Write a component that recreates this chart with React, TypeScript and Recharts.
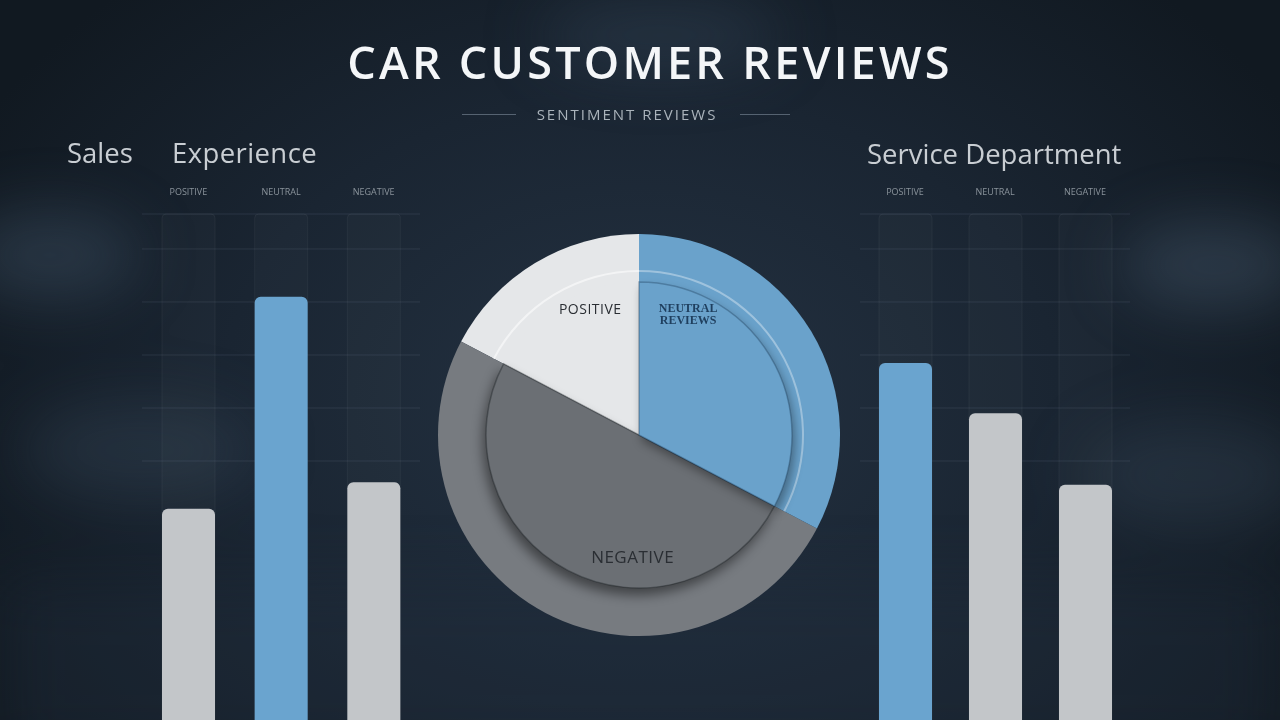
import { BarChart, Bar, XAxis, YAxis, CartesianGrid, Cell, PieChart, Pie } from 'recharts';

// bar categories (same three for both panels)
const reviewTypes = ['POSITIVE', 'NEUTRAL', 'NEGATIVE'];

const salesValues = [41, 81, 46];
const serviceValues = [68.5, 59, 45.5];

const salesColors = ['#c3c6c9', '#6aa4cf', '#c3c6c9'];
const serviceColors = ['#6aa4cf', '#c3c6c9', '#c3c6c9'];

const gridTicks = [50, 60, 70, 80, 90];

// pie, counter-clockwise from 12 o'clock
const sentimentNames = ['POSITIVE', 'NEGATIVE', 'NEUTRAL'];
const sentimentValues = [17.3, 50, 32.7];

const salesData = reviewTypes.map((name, i) => ({ name, value: salesValues[i] }));
const serviceData = reviewTypes.map((name, i) => ({ name, value: serviceValues[i] }));
const pieData = sentimentNames.map((name, i) => ({ name, value: sentimentValues[i] }));

const outerFills = ['#e5e7e9', '#777b80', '#6aa2cb'];
const innerFills = ['#e5e7e9', '#6b6f74', '#6aa2cb'];
const innerStrokes = ['none', 'rgba(20,25,30,0.35)', 'rgba(30,60,90,0.35)'];
const innerShadows = [
  undefined,
  'drop-shadow(-3px 7px 6px rgba(0,0,0,0.45))',
  'drop-shadow(3px 6px 5px rgba(0,0,0,0.35))',
];
const ringFills = ['rgba(255,255,255,0.55)', 'transparent', 'rgba(255,255,255,0.35)'];

// where each pie label sits (angle in degrees, radius in px)
const labelPlacement = [
  { angle: 111, r: 136 },
  { angle: -93, r: 121 },
  { angle: 68, r: 131 },
];
const pieLabelLines = [['POSITIVE'], ['NEGATIVE'], ['NEUTRAL', 'REVIEWS']];
const pieLabelColors = ['#2a2e33', '#2a2e33', '#1f3f5e'];
const pieLabelSizes = [14, 17, 12];

const FONT = '"Open Sans", "Noto Sans", sans-serif';

function PieLabel(props: any) {
  const { cx, cy, index } = props;
  const p = labelPlacement[index];
  const rad = (p.angle * Math.PI) / 180;
  const x = cx + p.r * Math.cos(rad);
  const y = cy - p.r * Math.sin(rad);
  const lines = pieLabelLines[index];
  const serif = index === 2;
  return (
    <text
      key={`lbl-${index}`}
      x={x}
      y={y - ((lines.length - 1) * pieLabelSizes[index]) / 2}
      textAnchor="middle"
      dominantBaseline="central"
      fill={pieLabelColors[index]}
      fontSize={pieLabelSizes[index]}
      fontFamily={serif ? '"Liberation Serif", serif' : FONT}
      fontWeight={serif ? 700 : 500}
      letterSpacing={serif ? 0 : 0.5}
    >
      {lines.map((l, k) => (
        <tspan key={k} x={x} dy={k === 0 ? 0 : pieLabelSizes[index]}>
          {l}
        </tspan>
      ))}
    </text>
  );
}

function ReviewBars({ data, colors, left, width }: { data: any[]; colors: string[]; left: number; width: number }) {
  return (
    <div style={{ position: 'absolute', left, top: 164 }}>
      <BarChart width={width} height={562} data={data} margin={{ top: 20, right: 0, bottom: 0, left: 0 }} barSize={53}>
        <CartesianGrid vertical={false} stroke="rgba(170,190,210,0.12)" />
        <XAxis
          dataKey="name"
          orientation="top"
          height={30}
          axisLine={false}
          tickLine={false}
          tickSize={0}
          tickMargin={19}
          tick={{ fill: '#8a939b', fontSize: 9, fontFamily: FONT }}
          interval={0}
        />
        <YAxis hide domain={[0, 96.6]} ticks={gridTicks} />
        <Bar
          dataKey="value"
          radius={[6, 6, 0, 0]}
          isAnimationActive={false}
          background={{ fill: 'rgba(255,255,255,0.02)', stroke: 'rgba(255,255,255,0.05)', radius: 4 } as any}
        >
          {data.map((d, i) => (
            <Cell key={d.name} fill={colors[i]} />
          ))}
        </Bar>
      </BarChart>
    </div>
  );
}

export default function App() {
  return (
    <div
      style={{
        position: 'fixed',
        inset: 0,
        width: 1280,
        height: 720,
        overflow: 'hidden',
        background: 'radial-gradient(ellipse 760px 560px at 640px 400px, #243242 0%, #1a2532 55%, #111921 100%)',
        fontFamily: FONT,
      }}
    >
      {/* blurred backdrop blobs */}
      <div style={{ position: 'absolute', inset: 0, filter: 'blur(30px)' }}>
        <div style={{ position: 'absolute', left: -40, top: 210, width: 180, height: 90, borderRadius: '50%', background: 'rgba(90,115,140,0.28)' }} />
        <div style={{ position: 'absolute', left: 1120, top: 220, width: 190, height: 90, borderRadius: '50%', background: 'rgba(100,125,150,0.28)' }} />
        <div style={{ position: 'absolute', left: 20, top: 400, width: 240, height: 100, borderRadius: '50%', background: 'rgba(70,90,110,0.25)' }} />
        <div style={{ position: 'absolute', left: 1080, top: 420, width: 230, height: 110, borderRadius: '50%', background: 'rgba(70,90,110,0.25)' }} />
        <div style={{ position: 'absolute', left: 540, top: 0, width: 240, height: 70, borderRadius: '50%', background: 'rgba(60,80,100,0.35)' }} />
        <div style={{ position: 'absolute', left: 0, top: 580, width: 1280, height: 180, background: 'rgba(35,50,65,0.3)' }} />
      </div>

      <div
        style={{
          position: 'absolute',
          left: 0,
          width: 1300,
          top: 31,
          textAlign: 'center',
          color: '#f4f6f8',
          fontSize: 45,
          fontWeight: 600,
          letterSpacing: 3.2,
        }}
      >
        CAR CUSTOMER REVIEWS
      </div>

      <div style={{ position: 'absolute', left: 462, top: 114, width: 54, height: 1, background: 'rgba(160,175,190,0.45)' }} />
      <div style={{ position: 'absolute', left: 740, top: 114, width: 50, height: 1, background: 'rgba(160,175,190,0.45)' }} />
      <div
        style={{
          position: 'absolute',
          left: 520,
          width: 214,
          top: 104,
          textAlign: 'center',
          color: '#aab3bb',
          fontSize: 15,
          letterSpacing: 2,
        }}
      >
        SENTIMENT REVIEWS
      </div>

      <div style={{ position: 'absolute', left: 67, top: 134, color: '#c9ced3', fontSize: 27.5 }}>Sales</div>
      <div style={{ position: 'absolute', left: 172, top: 134, color: '#c9ced3', fontSize: 27.5, letterSpacing: 0.4 }}>Experience</div>
      <div style={{ position: 'absolute', left: 867, top: 135, color: '#c9ced3', fontSize: 27.5 }}>Service Department</div>

      <ReviewBars data={salesData} colors={salesColors} left={142} width={278} />
      <ReviewBars data={serviceData} colors={serviceColors} left={860} width={270} />

      <div style={{ position: 'absolute', left: 430, top: 226 }}>
        <PieChart width={420} height={420} margin={{ top: 0, right: 0, bottom: 0, left: 0 }}>
          <Pie
            data={pieData}
            dataKey="value"
            cx={209}
            cy={209}
            outerRadius={201}
            startAngle={90}
            endAngle={450}
            stroke="none"
            isAnimationActive={false}
          >
            {pieData.map((d, i) => (
              <Cell key={d.name} fill={outerFills[i]} />
            ))}
          </Pie>
          <Pie
            data={pieData}
            dataKey="value"
            cx={209}
            cy={209}
            innerRadius={163}
            outerRadius={165}
            startAngle={90}
            endAngle={450}
            stroke="none"
            isAnimationActive={false}
          >
            {pieData.map((d, i) => (
              <Cell key={d.name} fill={ringFills[i]} />
            ))}
          </Pie>
          <Pie
            data={pieData}
            dataKey="value"
            cx={209}
            cy={209}
            outerRadius={153}
            startAngle={90}
            endAngle={450}
            isAnimationActive={false}
            label={PieLabel}
            labelLine={false}
          >
            {pieData.map((d, i) => (
              <Cell
                key={d.name}
                fill={innerFills[i]}
                stroke={innerStrokes[i]}
                strokeWidth={1.5}
                style={innerShadows[i] ? { filter: innerShadows[i] } : undefined}
              />
            ))}
          </Pie>
        </PieChart>
      </div>
    </div>
  );
}
